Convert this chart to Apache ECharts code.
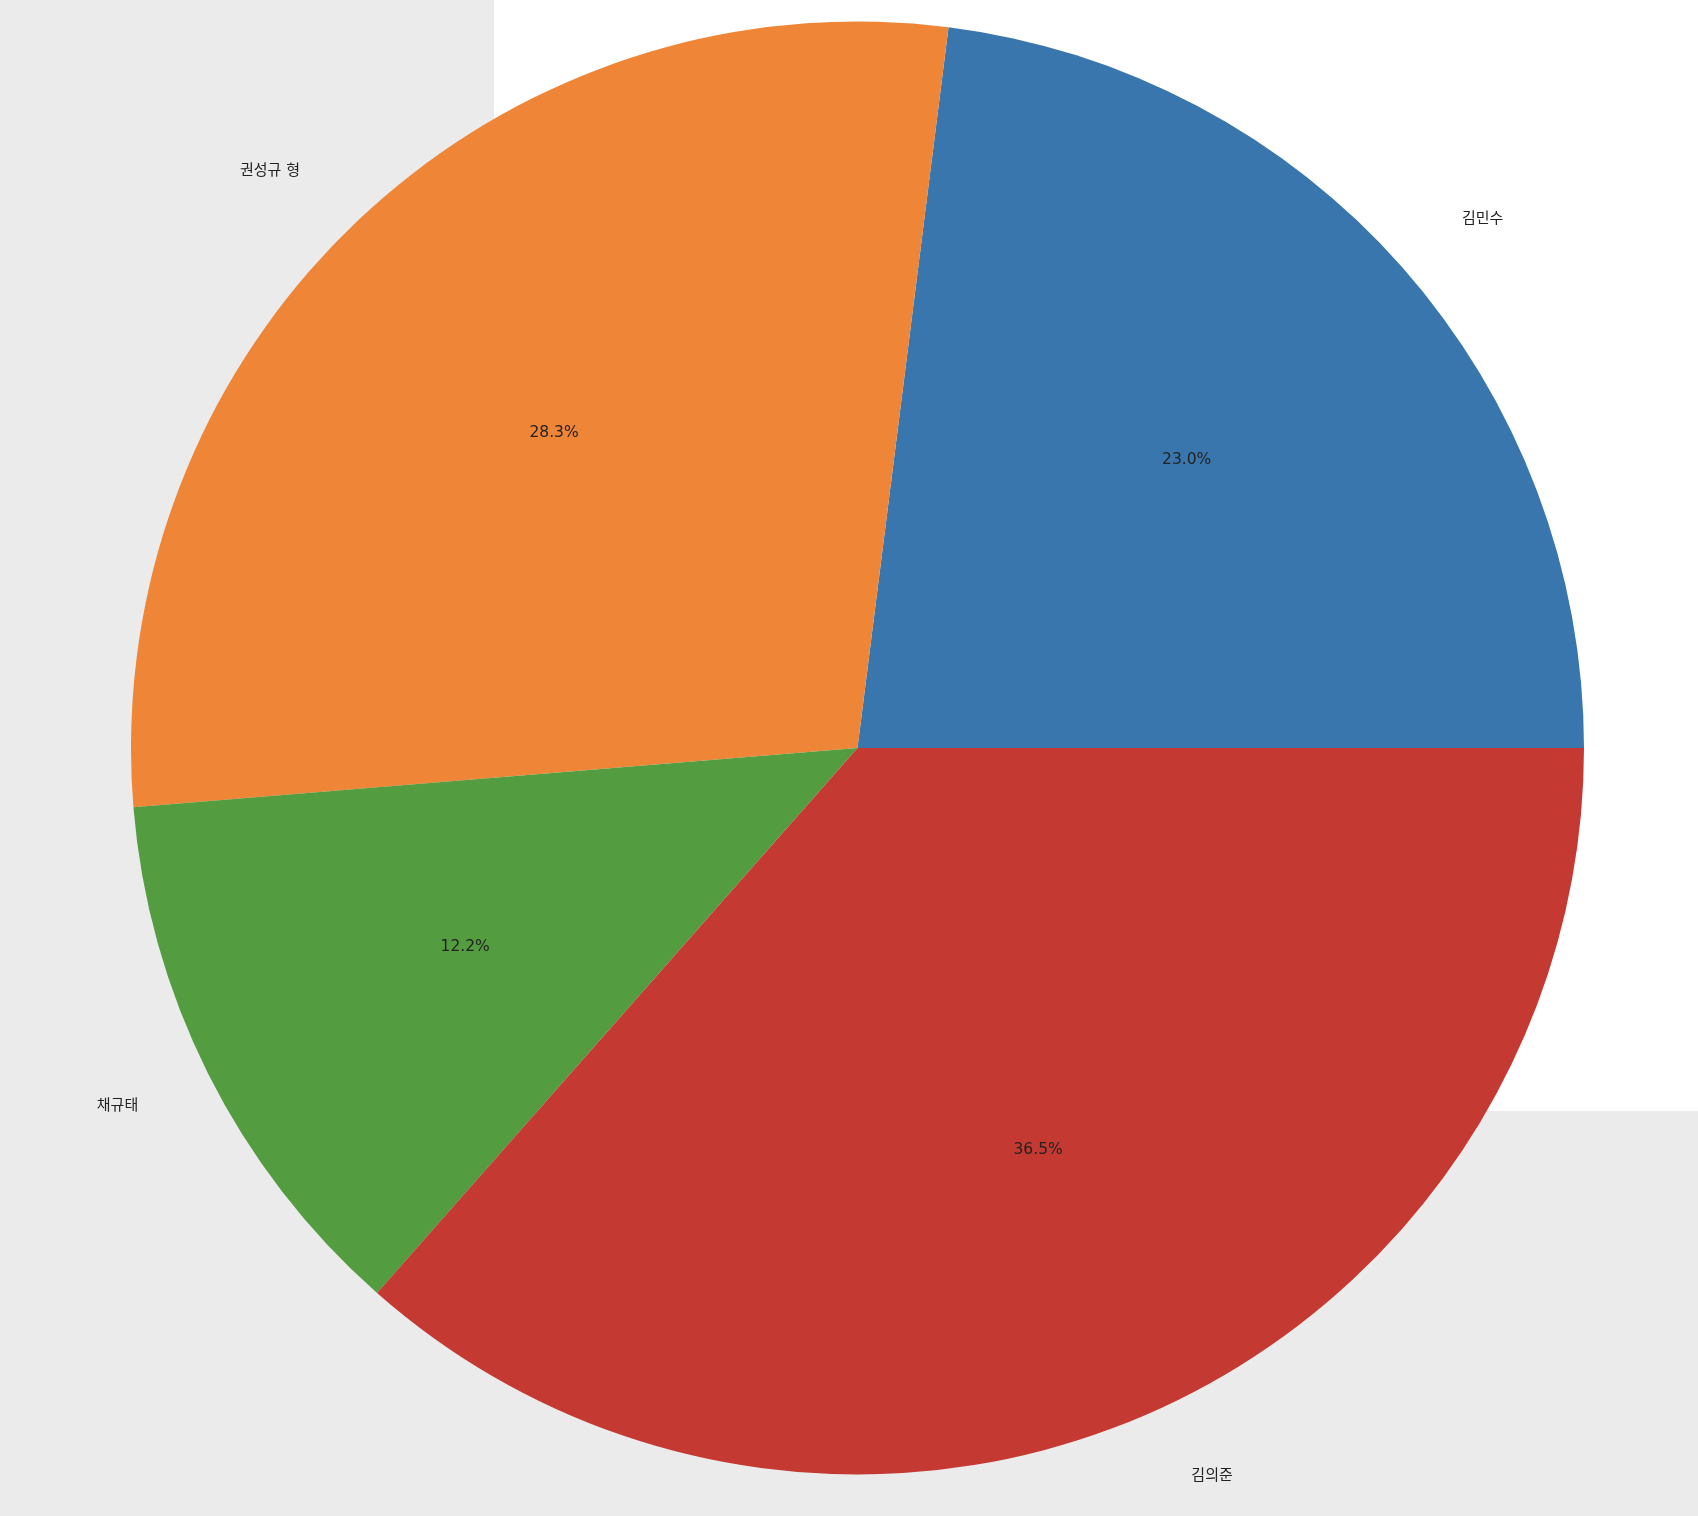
<!DOCTYPE html>
<html>
<head>
<meta charset="utf-8">
<script src="https://cdn.jsdelivr.net/npm/echarts@6/dist/echarts.min.js"></script>
<style>
html,body{margin:0;padding:0;background:#ebebeb;}
#chart{width:1698px;height:1516px;}
</style>
</head>
<body>
<div id="chart"></div>
<script>
const categories = ['김민수', '권성규 형', '채규태', '김의준'];
const values = [23.0, 28.3, 12.2, 36.5];
const colors = ['#3a76ae', '#ee8537', '#539c3f', '#c43932'];

const CX = 857.5, CY = 748, R = 726.5;
const FONT = '"DejaVu Sans", "Noto Sans CJK KR", sans-serif';

const chart = echarts.init(document.getElementById('chart'), null, {renderer: 'canvas'});

const mainData = categories.map((c, i) => ({name: c, value: values[i], itemStyle: {color: colors[i]}}));
const pctData = categories.map((c, i) => ({name: c, value: values[i]}));

chart.setOption({
  backgroundColor: '#ebebeb',
  animation: false,
  graphic: [{
    type: 'rect', z: -10, silent: true,
    shape: {x: 494, y: 0, width: 1204, height: 1111},
    style: {fill: '#ffffff'}
  }],
  series: [
    {
      type: 'pie',
      center: [CX, CY],
      radius: [0, R],
      startAngle: 0,
      clockwise: false,
      avoidLabelOverlap: false,
      silent: true,
      data: mainData,
      label: {
        show: true,
        position: 'outside',
        color: '#222',
        fontSize: 15,
        fontFamily: FONT,
        formatter: '{b}'
      },
      labelLine: {show: false, length: R * 0.1, length2: 0},
      emphasis: {disabled: true}
    },
    {
      type: 'pie',
      center: [CX, CY],
      radius: [R * 0.2, R],
      startAngle: 0,
      clockwise: false,
      silent: true,
      percentPrecision: 1,
      data: pctData,
      itemStyle: {color: 'rgba(0,0,0,0)'},
      label: {
        show: true,
        position: 'inside',
        color: '#222',
        fontSize: 15.5,
        fontFamily: FONT,
        offset: [0, 2],
        formatter: (p) => p.percent.toFixed(1) + '%'
      },
      labelLine: {show: false},
      emphasis: {disabled: true}
    }
  ]
});
</script>
</body>
</html>
